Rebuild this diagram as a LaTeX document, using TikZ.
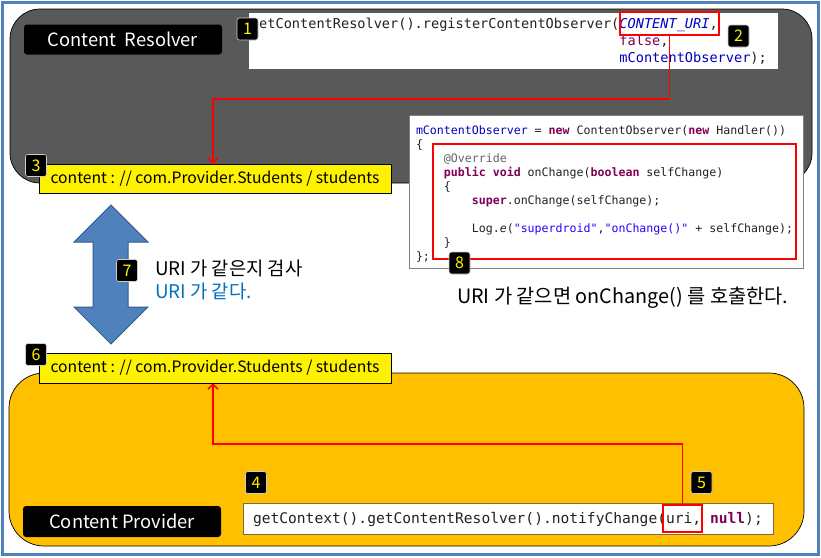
\documentclass[tikz,border=0pt]{standalone}
\usepackage{fontspec}
\setmainfont{Noto Sans CJK KR}
\setmonofont{DejaVu Sans Mono}
\usetikzlibrary{arrows.meta}
\definecolor{frameblue}{HTML}{4F81BD}
\definecolor{darkgray}{HTML}{595959}
\definecolor{provorange}{HTML}{FFC000}
\definecolor{kwpurple}{HTML}{7F0055}
\definecolor{fieldblue}{HTML}{0000C0}
\definecolor{strblue}{HTML}{2A00FF}
\definecolor{annogray}{HTML}{646464}
\definecolor{arrowfill}{HTML}{4F81BD}
\definecolor{arrowedge}{HTML}{385D8A}
\definecolor{textblue}{HTML}{0070C0}
\definecolor{codebrown}{HTML}{7F6A3F}
\definecolor{codetext}{HTML}{222222}
\newcommand{\kw}[1]{\textcolor{kwpurple}{\textbf{#1}}}
\newcommand{\fld}[1]{\textcolor{fieldblue}{#1}}
\newcommand{\str}[1]{\textcolor{strblue}{#1}}
\begin{document}
\begin{tikzpicture}[x=1pt,y=-1pt,
  box/.style={inner sep=0pt, outer sep=0pt},
  titlebox/.style={box, fill=black, rounded corners=3pt, text=white,
    font=\fontsize{18.3}{20}\selectfont, minimum width=198pt, minimum height=30pt},
  numlabel/.style={box, fill=black, draw=white!80!black, line width=0.6pt, rounded corners=2.5pt,
    text=yellow, font=\fontsize{16}{16}\selectfont, minimum width=21pt, minimum height=22pt},
  uribox/.style={box, fill=yellow, draw=black, line width=0.7pt,
    font=\fontsize{15.7}{18}\selectfont, minimum width=352pt, minimum height=29pt},
  redbox/.style={box, draw=red, line width=1.6pt},
  redarrow/.style={draw=red, line width=1.6pt, -{Straight Barb[length=5pt,width=10pt]}},
  codetxt/.style={box, anchor=north west, align=left, text=codetext},
  kortext/.style={box, anchor=west, font=\fontsize{18.8}{20}\selectfont},
]
\useasboundingbox (0,0) rectangle (821,557);
\fill[white] (0,0) rectangle (821,557);
\draw[frameblue, line width=3pt] (2.5,2.5) rectangle (818,554);

% Content Resolver region
\node[box, fill=darkgray, draw=black, line width=0.7pt, rounded corners=30pt,
  minimum width=802pt, minimum height=174pt] (res) at (411,96) {};
% Content Provider region
\node[box, fill=provorange, draw=black, line width=0.7pt, rounded corners=35pt,
  minimum width=795pt, minimum height=173pt] (prov) at (406.5,459.5) {};

\node[titlebox] (resl) at (123,39.5) {Content\ \ Resolver};
\node[titlebox, minimum height=31pt] (provl) at (122,521.5) {Content Provider};

% code box 1
\node[box, fill=white, minimum width=529pt, minimum height=56pt] (code1) at (513.5,41) {};
\node[codetxt, font=\ttfamily\fontsize{13.6}{17}\selectfont] (code1txt) at (251,18)
  {getContentResolver().registerContentObserver(\textcolor{fieldblue}{\itshape CONTENT\_URI},\\
   \phantom{getContentResolver().registerContentObserver(}\textcolor{kwpurple}{false},\\
   \phantom{getContentResolver().registerContentObserver(}\fld{mContentObserver});};
\node[redbox, minimum width=99pt, minimum height=23pt] (r2) at (669.5,23.5) {};
\node[numlabel] (lab1) at (247.5,29) {1};
\node[numlabel] (lab2) at (738.5,36) {2};

% red connector 2 -> 3
\draw[redarrow] (r2.south) -- ++(0,64) -| (213,164);

\node[uribox] (box3) at (215,178.5) {content : // com.Provider.Students / students};
\node[numlabel] (lab3) at (36,165.5) {3};

% code box 8
\node[box, fill=white, draw=gray, line width=0.8pt, minimum width=394pt, minimum height=153pt] (code8) at (606,191.5) {};
\node[codetxt, font=\ttfamily\fontsize{11.6}{14}\selectfont] (code8txt) at (416,125.5)
  {\fld{mContentObserver} = \kw{new} ContentObserver(\kw{new} Handler())\\
   \{\\
   \phantom{xxxx}\textcolor{annogray}{@Override}\\
   \phantom{xxxx}\kw{public} \kw{void} onChange(\kw{boolean} selfChange)\\
   \phantom{xxxx}\{\\
   \phantom{xxxxxxxx}\kw{super}.onChange(selfChange);\\
   \mbox{}\\
   \phantom{xxxxxxxx}Log.\textit{e}(\str{"superdroid"},\str{"onChange()"} + selfChange);\\
   \phantom{xxxx}\}\\
   \};};
\node[redbox, minimum width=363pt, minimum height=115pt] (r8) at (614.5,201.5) {};
\node[numlabel] (lab8) at (459.5,263) {8};

\node[kortext, font=\fontsize{19.8}{21}\selectfont] (note) at (457,298)
  {URI 가 같으면 onChange() 를 호출한다.};

% double arrow
\draw[fill=arrowfill, draw=arrowedge, line width=1pt]
  (111,205) -- (148,242) -- (128,242) -- (128,307) -- (148,307) -- (111,344)
  -- (74,307) -- (93,307) -- (93,242) -- (74,242) -- cycle;
\node[numlabel] (lab7) at (127,270.5) {7};
\node[kortext] (chk) at (155,268) {URI 가 같은지 검사};
\node[kortext, text=textblue] (same) at (155,291) {URI 가 같다.};

% code box 4
\node[box, fill=white, draw=codebrown, line width=1pt, minimum width=530pt, minimum height=31pt] (code4) at (508,518.5) {};
\node[codetxt, font=\ttfamily\fontsize{14.6}{17}\selectfont, anchor=west] (code4txt) at (253,519)
  {getContext().getContentResolver().notifyChange(uri, \kw{null});};
\node[redbox, minimum width=39pt, minimum height=27pt] (r5) at (682.5,518.5) {};

% red connector 5 -> 6
\draw[redarrow] (r5.north) -- ++(0,-61) -| (213,383);

\node[uribox, minimum height=30pt] (box6) at (215,368) {content : // com.Provider.Students / students};
\node[numlabel] (lab6) at (36,354.5) {6};
\node[numlabel] (lab4) at (256,482.5) {4};
\node[numlabel] (lab5) at (701.5,482.5) {5};
\end{tikzpicture}
\end{document}
